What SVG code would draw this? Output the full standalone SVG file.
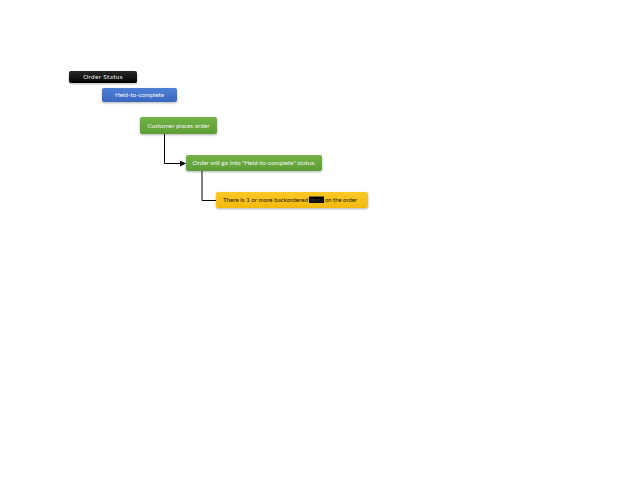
<svg xmlns="http://www.w3.org/2000/svg" width="638" height="493" viewBox="0 0 638 493">
<style>
  text { font-family: Lato, "Liberation Sans", sans-serif; font-size: 6.3px; font-weight: 400; }
  .lt { fill: #f4f6f2; }
  .dk { fill: #1a1400; }
  .conn { fill: none; stroke: #000; stroke-width: 1; }
</style>
<defs>
  <linearGradient id="gBlack" x1="0" y1="0" x2="0" y2="1">
    <stop offset="0" stop-color="#2a2a2a"/><stop offset="1" stop-color="#000"/>
  </linearGradient>
  <linearGradient id="gBlue" x1="0" y1="0" x2="0" y2="1">
    <stop offset="0" stop-color="#4f7fd6"/><stop offset="1" stop-color="#3a67c0"/>
  </linearGradient>
  <linearGradient id="gGreen" x1="0" y1="0" x2="0" y2="1">
    <stop offset="0" stop-color="#72b246"/><stop offset="1" stop-color="#5f9c36"/>
  </linearGradient>
  <linearGradient id="gYellow" x1="0" y1="0" x2="0" y2="1">
    <stop offset="0" stop-color="#fcc928"/><stop offset="1" stop-color="#f2b90f"/>
  </linearGradient>
  <filter id="sh" x="-10%" y="-30%" width="120%" height="170%">
    <feDropShadow dx="0" dy="1" stdDeviation="0.8" flood-color="#000" flood-opacity="0.3"/>
  </filter>
  <marker id="arr" markerWidth="6" markerHeight="6" refX="5" refY="3" orient="auto" markerUnits="userSpaceOnUse">
    <path d="M0,0 L6,3 L0,6 Z" fill="#000"/>
  </marker>
</defs>
<rect width="638" height="493" fill="#fff"/>
<g id="connectors">
  <path class="conn" d="M164.5,134 V163.5 H185" marker-end="url(#arr)"/>
  <path class="conn" d="M202,171 V200.5 H216"/>
</g>
<g id="order-status">
  <rect x="69" y="71" width="68" height="12" rx="2" fill="url(#gBlack)" filter="url(#sh)"/>
  <text class="lt" x="103" y="79.2" text-anchor="middle" font-size="5.3" font-weight="300" letter-spacing="0.4">Order Status</text>
</g>
<g id="held-to-complete">
  <rect x="102" y="88" width="75" height="14" rx="2" fill="url(#gBlue)" filter="url(#sh)"/>
  <text class="lt" x="139.5" y="97.3" text-anchor="middle">Held-to-complete</text>
</g>
<g id="customer-places-order">
  <rect x="140" y="117" width="77" height="17" rx="2" fill="url(#gGreen)" filter="url(#sh)"/>
  <text class="lt" x="178.5" y="127.8" text-anchor="middle">Customer places order</text>
</g>
<g id="order-will-go">
  <rect x="186" y="155" width="136" height="16" rx="2" fill="url(#gGreen)" filter="url(#sh)"/>
  <text class="lt" x="254" y="165.3" text-anchor="middle">Order will go into "Held-to-complete" status.</text>
</g>
<g id="backordered">
  <rect x="216" y="192" width="152" height="16" rx="2" fill="url(#gYellow)" filter="url(#sh)"/>
  <rect x="309" y="196.5" width="15" height="6.5" fill="#000"/>
  <text class="dk" x="223" y="202.2" textLength="85" lengthAdjust="spacingAndGlyphs">There is 1 or more backordered</text>
  <text x="310" y="202.2" fill="#3a3a3a" font-weight="700" textLength="13" lengthAdjust="spacingAndGlyphs">Items</text>
  <text class="dk" x="325" y="202.2" textLength="32" lengthAdjust="spacingAndGlyphs">on the order</text>
</g>
</svg>
